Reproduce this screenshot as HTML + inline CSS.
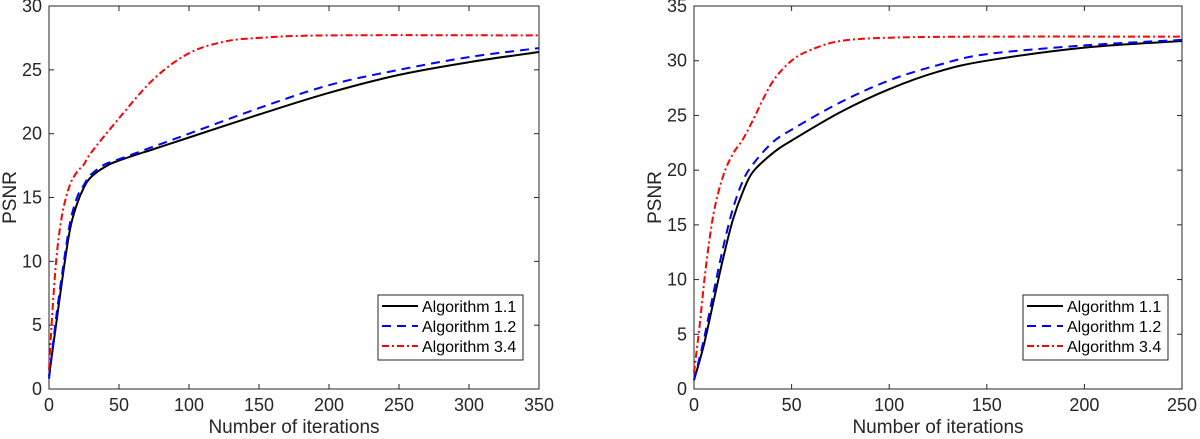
<!DOCTYPE html>
<html><head><meta charset="utf-8">
<style>
body{margin:0;background:#fff;width:1200px;height:439px;overflow:hidden}
svg{display:block;font-family:"Liberation Sans",sans-serif}
</style></head>
<body>
<svg id="svg" width="1200" height="439"></svg>
<script>
const leftX = [0,5,10,15,20,25,30,40,50,75,100,150,200,250,300,350];
const leftAlg11 = [1,5,9,12.5,14.5,15.8,16.6,17.4,17.9,18.8,19.7,21.5,23.2,24.6,25.6,26.4];
const leftAlg12 = [0.8,5.5,9.5,13,15,16,16.8,17.6,18,19,20,22,23.8,25,26,26.7];
const leftX34 = [0,3,6,10,15,20,25,30,50,75,100,125,150,200,350];
const leftAlg34 = [1.5,7,11,14,16,17,17.6,18.5,21.2,24.3,26.3,27.2,27.5,27.7,27.7];
const rightX = [0,5,10,15,20,25,30,40,50,75,100,125,150,200,250];
const rightAlg11 = [0.8,4,8,12,15.5,18,19.8,21.5,22.7,25.3,27.4,29,30,31.2,31.8];
const rightAlg12 = [0.8,4.5,8.8,13,16.5,19,20.5,22.5,23.7,26.2,28.2,29.6,30.6,31.4,31.9];
const rightX34 = [0,3,6,10,15,20,25,30,40,50,60,75,100,150,250];
const rightAlg34 = [1.5,6,11,16,19.5,21.5,22.8,24.5,28,30,31,31.8,32.1,32.2,32.2];
const leftXTicks = [0,50,100,150,200,250,300,350];
const leftYTicks = [0,5,10,15,20,25,30];
const rightXTicks = [0,50,100,150,200,250];
const rightYTicks = [0,5,10,15,20,25,30,35];
const legendLabels = ["Algorithm 1.1","Algorithm 1.2","Algorithm 3.4"];

const NS="http://www.w3.org/2000/svg";
const svg=document.getElementById('svg');
function mk(tag,attrs,parent){const e=document.createElementNS(NS,tag);for(const k in attrs)e.setAttribute(k,attrs[k]);(parent||svg).appendChild(e);return e;}
const styles=[{stroke:"#000",dash:""},{stroke:"#0000ff",dash:"9,6"},{stroke:"#ff0000",dash:"7,3,2,3"}];

function smooth(pts){
  let d='M'+pts[0][0].toFixed(1)+','+pts[0][1].toFixed(1);
  for(let i=0;i<pts.length-1;i++){
    const p0=pts[i-1]||pts[i],p1=pts[i],p2=pts[i+1],p3=pts[i+2]||p2;
    const c1=[p1[0]+(p2[0]-p0[0])/6,p1[1]+(p2[1]-p0[1])/6];
    const c2=[p2[0]-(p3[0]-p1[0])/6,p2[1]-(p3[1]-p1[1])/6];
    d+='C'+c1.map(v=>v.toFixed(1)).join(',')+' '+c2.map(v=>v.toFixed(1)).join(',')+' '+p2.map(v=>v.toFixed(1)).join(',');
  }
  return d;
}

function plot(p){
  const g=mk('g',{});
  
  
  const sx=v=>p.x0+(v-p.xmin)/(p.xmax-p.xmin)*(p.x1-p.x0);
  const sy=v=>p.y0-(v-p.ymin)/(p.ymax-p.ymin)*(p.y0-p.y1);
  const box=mk('rect',{x:p.x0,y:p.y1,width:p.x1-p.x0,height:p.y0-p.y1,fill:'none',stroke:'#262626','stroke-width':1},g);
  
  
  p.xt.forEach(t=>{
    const x=sx(t);
    mk('line',{x1:x,x2:x,y1:p.y0,y2:p.y0-5,stroke:'#262626'},g);
    mk('line',{x1:x,x2:x,y1:p.y1,y2:p.y1+5,stroke:'#262626'},g);
    const tx=mk('text',{x:x,y:p.y0+22,'text-anchor':'middle','font-size':18,fill:'#262626'},g);
    tx.textContent=t;
    
    
  });
  p.yt.forEach(t=>{
    const y=sy(t);
    mk('line',{x1:p.x0,x2:p.x0+5,y1:y,y2:y,stroke:'#262626'},g);
    mk('line',{x1:p.x1,x2:p.x1-5,y1:y,y2:y,stroke:'#262626'},g);
    const tx=mk('text',{x:p.x0-7,y:y+6,'text-anchor':'end','font-size':18,fill:'#262626'},g);
    tx.textContent=t;
    
    
  });
  const xl=mk('text',{x:(p.x0+p.x1)/2,y:p.y0+44,'text-anchor':'middle','font-size':19,fill:'#262626'},g);
  xl.textContent='Number of iterations';
  
  
  const yx=p.x0-33, yy=(p.y0+p.y1)/2;
  const yl=mk('text',{x:yx,y:yy,'text-anchor':'middle','font-size':19,fill:'#262626',transform:`rotate(-90 ${yx} ${yy})`},g);
  yl.textContent='PSNR';
  
  
  p.series.forEach((s,i)=>{
    const pts=s.x.map((v,j)=>[sx(v),sy(s.y[j])]);
    const path=mk('path',{d:smooth(pts),fill:'none',stroke:styles[i].stroke,'stroke-width':2,'stroke-dasharray':styles[i].dash,'stroke-linejoin':'round'},g);
    
    
  });
  const lg=mk('g',{},g);
  
  
  mk('rect',{x:p.lx,y:295,width:145,height:65,fill:'#fff',stroke:'#262626'},lg);
  legendLabels.forEach((l,i)=>{
    const y=306+i*20;
    mk('line',{x1:p.lx+4,x2:p.lx+40,y1:y,y2:y,stroke:styles[i].stroke,'stroke-width':2,'stroke-dasharray':styles[i].dash},lg);
    const t=mk('text',{x:p.lx+44,y:y+6,'font-size':16,fill:'#000'},lg);
    t.textContent=l;
    
    
  });
}
plot({name:'left-plot',x0:49,x1:539,y0:389,y1:6,xmin:0,xmax:350,ymin:0,ymax:30,xt:leftXTicks,yt:leftYTicks,lx:378,
  series:[{x:leftX,y:leftAlg11},{x:leftX,y:leftAlg12},{x:leftX34,y:leftAlg34}]});
plot({name:'right-plot',x0:694,x1:1182,y0:389,y1:6,xmin:0,xmax:250,ymin:0,ymax:35,xt:rightXTicks,yt:rightYTicks,lx:1023,
  series:[{x:rightX,y:rightAlg11},{x:rightX,y:rightAlg12},{x:rightX34,y:rightAlg34}]});
</script>
</body></html>
